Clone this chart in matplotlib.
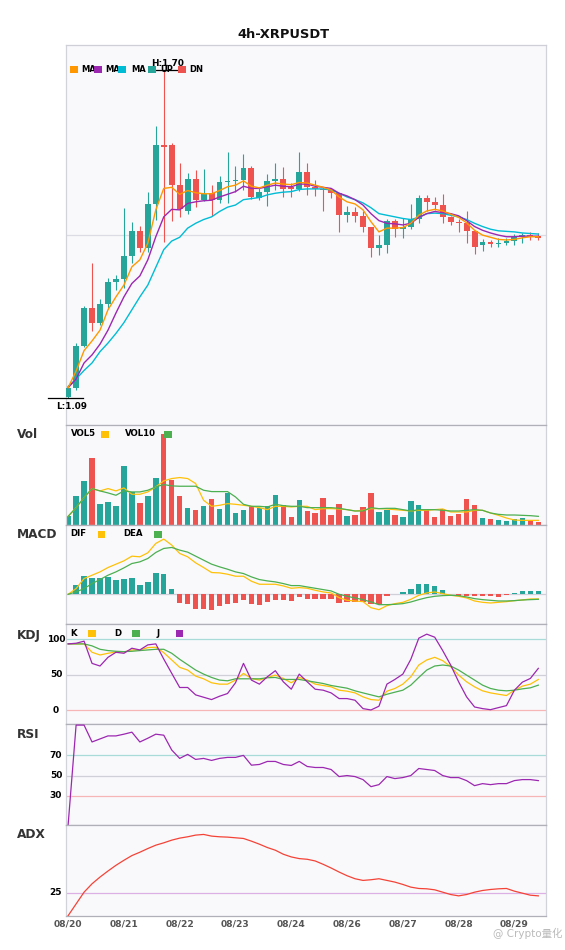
import matplotlib
matplotlib.use('Agg')
import matplotlib.pyplot as plt
import matplotlib.transforms as mtransforms
from matplotlib.patches import Rectangle
import numpy as np

# ---- data (60 x 4h bars) ----
opens = [1.092, 1.109, 1.187, 1.257, 1.229, 1.265, 1.306, 1.311, 1.354, 1.401,
         1.369, 1.451, 1.561, 1.561, 1.486, 1.438, 1.497, 1.458, 1.471, 1.458,
         1.492, 1.494, 1.495, 1.518, 1.462, 1.473, 1.494, 1.497, 1.482, 1.479,
         1.510, 1.482, 1.479, 1.477, 1.471, 1.430, 1.436, 1.428, 1.408, 1.369,
         1.375, 1.419, 1.404, 1.408, 1.423, 1.462, 1.455, 1.449, 1.427, 1.418,
         1.415, 1.401, 1.375, 1.380, 1.377, 1.379, 1.382, 1.389, 1.393, 1.392]
closes = [1.109, 1.187, 1.257, 1.229, 1.265, 1.306, 1.311, 1.354, 1.401, 1.369,
          1.451, 1.561, 1.558, 1.486, 1.441, 1.497, 1.458, 1.469, 1.458, 1.492,
          1.494, 1.495, 1.518, 1.464, 1.473, 1.494, 1.497, 1.479, 1.479, 1.510,
          1.482, 1.479, 1.477, 1.471, 1.430, 1.436, 1.428, 1.408, 1.369, 1.375,
          1.419, 1.404, 1.408, 1.423, 1.462, 1.455, 1.449, 1.427, 1.417, 1.416,
          1.401, 1.371, 1.380, 1.377, 1.379, 1.382, 1.389, 1.393, 1.390, 1.387]
highs = [1.113, 1.192, 1.261, 1.341, 1.274, 1.313, 1.319, 1.444, 1.417, 1.410,
         1.473, 1.596, 1.700, 1.564, 1.527, 1.509, 1.515, 1.516, 1.486, 1.503,
         1.548, 1.521, 1.544, 1.521, 1.482, 1.507, 1.527, 1.520, 1.490, 1.548,
         1.527, 1.495, 1.482, 1.481, 1.471, 1.447, 1.445, 1.438, 1.408, 1.393,
         1.423, 1.423, 1.425, 1.451, 1.468, 1.468, 1.464, 1.469, 1.428, 1.423,
         1.438, 1.401, 1.386, 1.384, 1.388, 1.388, 1.395, 1.397, 1.399, 1.397]
lows = [1.090, 1.105, 1.185, 1.215, 1.226, 1.256, 1.291, 1.295, 1.341, 1.362,
        1.362, 1.421, 1.380, 1.419, 1.426, 1.432, 1.445, 1.456, 1.428, 1.453,
        1.453, 1.473, 1.477, 1.460, 1.458, 1.447, 1.477, 1.464, 1.464, 1.475,
        1.468, 1.466, 1.438, 1.462, 1.399, 1.417, 1.417, 1.399, 1.352, 1.356,
        1.360, 1.389, 1.388, 1.404, 1.415, 1.438, 1.440, 1.415, 1.412, 1.399,
        1.378, 1.358, 1.363, 1.371, 1.371, 1.375, 1.375, 1.378, 1.384, 1.384]

ma5 = [1.109, 1.140, 1.178, 1.196, 1.216, 1.254, 1.278, 1.300, 1.334, 1.347,
       1.378, 1.440, 1.480, 1.482, 1.469, 1.476, 1.472, 1.470, 1.470, 1.476,
       1.483, 1.486, 1.494, 1.484, 1.481, 1.486, 1.490, 1.488, 1.487, 1.491,
       1.490, 1.486, 1.482, 1.477, 1.464, 1.455, 1.451, 1.440, 1.418, 1.399,
       1.406, 1.406, 1.407, 1.415, 1.430, 1.438, 1.441, 1.438, 1.432, 1.426,
       1.416, 1.402, 1.393, 1.389, 1.385, 1.384, 1.385, 1.388, 1.390, 1.390]
ma10 = [1.109, 1.125, 1.155, 1.170, 1.190, 1.216, 1.248, 1.278, 1.303, 1.317,
        1.347, 1.390, 1.427, 1.441, 1.440, 1.452, 1.455, 1.457, 1.458, 1.464,
        1.469, 1.474, 1.484, 1.480, 1.480, 1.483, 1.486, 1.484, 1.483, 1.488,
        1.488, 1.484, 1.482, 1.480, 1.471, 1.466, 1.459, 1.449, 1.433, 1.420,
        1.415, 1.414, 1.412, 1.415, 1.426, 1.433, 1.437, 1.435, 1.433, 1.429,
        1.420, 1.409, 1.402, 1.397, 1.393, 1.390, 1.390, 1.391, 1.391, 1.391]
ma20 = [1.111, 1.125, 1.141, 1.155, 1.176, 1.192, 1.210, 1.230, 1.254, 1.278,
        1.300, 1.333, 1.366, 1.382, 1.389, 1.406, 1.415, 1.422, 1.427, 1.437,
        1.445, 1.449, 1.459, 1.461, 1.463, 1.468, 1.471, 1.473, 1.474, 1.478,
        1.479, 1.479, 1.479, 1.477, 1.471, 1.464, 1.459, 1.453, 1.444, 1.433,
        1.430, 1.427, 1.424, 1.422, 1.426, 1.433, 1.434, 1.433, 1.430, 1.427,
        1.422, 1.415, 1.409, 1.404, 1.401, 1.400, 1.399, 1.397, 1.396, 1.395]

vol = [25, 85, 130, 199, 61, 67, 55, 175, 97, 64,
       87, 139, 271, 133, 85, 49, 43, 55, 76, 46,
       94, 34, 43, 55, 49, 55, 88, 58, 22, 73,
       40, 34, 79, 28, 61, 25, 28, 52, 94, 37,
       43, 28, 22, 70, 58, 43, 22, 46, 25, 31,
       76, 58, 19, 16, 13, 10, 16, 19, 13, 7]
vol5 = [25, 51, 81, 108, 101, 108, 101, 110, 91, 91,
        98, 113, 131, 138, 141, 138, 123, 73, 55, 58,
        63, 61, 58, 55, 51, 45, 55, 55, 53, 55,
        55, 45, 48, 48, 47, 45, 41, 43, 48, 48,
        47, 45, 43, 41, 43, 43, 45, 47, 38, 38,
        38, 43, 43, 35, 28, 20, 14, 13, 13, 13]
vol10 = [25, 51, 81, 108, 101, 95, 88, 101, 98, 98,
         103, 113, 120, 116, 115, 115, 115, 103, 99, 99,
         99, 83, 61, 55, 55, 53, 61, 57, 55, 55,
         51, 51, 51, 51, 49, 45, 41, 41, 51, 48,
         49, 49, 45, 41, 45, 45, 45, 43, 41, 41,
         43, 45, 43, 35, 31, 29, 29, 28, 27, 25]

# MACD in units of 1e-4
macd_hist = [0, 27, 54, 48, 48, 51, 42, 45, 48, 27,
             36, 63, 60, 15, -26, -29, -44, -44, -47, -35,
             -29, -26, -17, -29, -32, -23, -17, -17, -20, -8,
             -14, -14, -14, -14, -26, -23, -23, -23, -29, -29,
             -5, 2, 6, 15, 30, 30, 24, 12, 0, -5,
             -5, -5, -5, -5, -8, -3, 4, 9, 9, 9]
dif = [0, 17, 47, 57, 67, 80, 90, 100, 114, 112,
       124, 152, 165, 147, 122, 112, 94, 80, 65, 64,
       60, 54, 54, 39, 30, 30, 30, 25, 18, 20,
       18, 12, 7, 4, -10, -18, -20, -22, -40, -46,
       -34, -28, -24, -15, -3, 4, 7, 2, -3, -6,
       -11, -20, -24, -26, -24, -22, -19, -17, -14, -14]
dea = [0, 7, 17, 32, 44, 57, 67, 79, 92, 97,
       107, 125, 137, 140, 132, 126, 114, 102, 90, 82,
       75, 67, 62, 52, 44, 40, 37, 32, 26, 26,
       22, 18, 14, 10, 0, -6, -11, -16, -23, -31,
       -31, -30, -28, -23, -16, -10, -6, -4, -3, -4,
       -8, -13, -16, -18, -20, -20, -19, -17, -16, -15]

k_vals = [93.4, 93.4, 93.4, 81.6, 77.8, 80.2, 82.1, 82.1, 84.9, 84.9,
          88.2, 88.7, 81.1, 70.8, 60.4, 56.6, 48.1, 44.3, 38.7, 36.8,
          36.8, 42.5, 51.9, 44.8, 42.5, 46.2, 49.5, 44.8, 38.7, 46.2,
          42.5, 36.8, 34.9, 33.0, 28.3, 26.9, 24.5, 18.9, 15.1, 14.2,
          26.9, 30.7, 36.8, 47.2, 63.7, 70.8, 74.5, 69.8, 61.3, 49.5,
          40.1, 33.0, 27.4, 24.5, 22.6, 20.8, 28.3, 34.0, 36.8, 43.4]
d_vals = [93.4, 93.4, 93.4, 90.6, 85.8, 84.0, 83.0, 82.5, 83.0, 84.0,
          84.9, 85.8, 85.8, 80.2, 71.7, 64.2, 56.6, 50.9, 46.2, 42.5,
          41.5, 44.3, 44.3, 44.3, 44.3, 45.8, 46.2, 43.4, 43.4, 43.4,
          41.5, 39.6, 37.7, 34.9, 33.0, 31.1, 27.4, 24.5, 21.7, 18.9,
          22.6, 25.5, 28.3, 35.4, 46.2, 56.6, 62.3, 63.7, 62.3, 56.6,
          49.5, 42.5, 35.4, 30.7, 28.3, 27.4, 28.3, 30.2, 31.6, 35.4]
j_vals = [93.4, 94.3, 97.2, 66.0, 62.3, 74.5, 81.6, 80.2, 87.3, 84.9,
          92.0, 93.4, 72.0, 52.0, 32.1, 32.1, 21.7, 18.4, 15.1, 19.8,
          23.6, 38.7, 66.0, 42.5, 36.8, 47.2, 55.7, 40.1, 29.7, 50.9,
          40.1, 29.7, 28.3, 24.5, 16.5, 16.5, 14.2, 2.4, 0.5, 5.7,
          36.8, 43.4, 50.9, 71.7, 101.4, 107.1, 102.8, 84.0, 63.7, 40.1,
          18.9, 4.7, 2.4, 0.9, 3.8, 6.6, 28.3, 39.6, 44.8, 59.0]

rsi = [1.3, 100, 100, 83.3, 86.3, 89.3, 89.3, 91, 93, 83.3,
       87, 91, 90, 75.3, 67, 71, 66, 67, 65, 67,
       68, 68, 70, 60.3, 61, 64, 64, 61, 60, 64,
       59, 58, 58, 56, 49, 50, 49, 46, 39, 41,
       49, 47, 48, 50, 57, 56, 55, 50, 48, 48,
       45, 40, 42, 41, 42, 42, 45, 46, 46, 45]

adx = [11.2, 18.2, 25.2, 30.2, 34.2, 37.8, 41.2, 44.2, 47.0, 49.0,
       51.2, 53.2, 54.6, 56.2, 57.4, 58.2, 59.2, 59.6, 58.6, 58.2,
       58.0, 57.6, 57.2, 55.6, 53.8, 51.8, 50.2, 47.8, 46.2, 45.2,
       44.8, 43.8, 41.8, 39.6, 37.2, 35.0, 33.2, 32.2, 32.6, 33.2,
       32.2, 31.2, 29.8, 28.2, 27.4, 27.2, 26.6, 25.2, 23.8, 23.0,
       23.8, 25.2, 26.2, 26.8, 27.2, 27.4, 25.8, 24.6, 23.4, 23.0]

date_labels = ['08/20', '08/21', '08/22', '08/23', '08/24',
               '08/26', '08/27', '08/28', '08/29']
date_pos = [0, 7, 14, 21, 28, 35, 42, 49, 56]

# ---- style ----
UP = '#26a69a'
DN = '#ef5350'
C_MA5 = '#ff9800'
C_MA10 = '#9c27b0'
C_MA20 = '#00bcd4'
C_YEL = '#ffc107'
C_GRN = '#4caf50'
C_PUR = '#9c27b0'
BG = '#f9f9fc'

W, H = 565, 950


def fx(x):
    return x / W


def fy(y):
    return 1 - y / H


fig = plt.figure(figsize=(W / 100, H / 100), dpi=100)
fig.patch.set_facecolor('white')

L_PX, R_PX = 65.5, 545.5


def panel(top, bottom, main=False):
    ax = fig.add_axes([fx(L_PX), fy(bottom), (R_PX - L_PX) / W, (bottom - top) / H])
    ax.set_facecolor(BG)
    ax.set_xticks([])
    ax.set_yticks([])
    for side in ['left', 'right']:
        ax.spines[side].set_color('#d2d2da')
        ax.spines[side].set_linewidth(0.9)
    for side in ['top', 'bottom']:
        ax.spines[side].set_color('#cfcfd8' if main else '#b0b0b8')
        ax.spines[side].set_linewidth(0.9)
    ax.set_xlim(-0.33, 59.9)
    return ax


n = len(closes)
x = np.arange(n)
o = np.array(opens)
c = np.array(closes)
colors = [UP if c[i] >= o[i] else DN for i in range(n)]

# ---- main candle panel ----
ax = panel(45, 424.7, main=True)
ax.set_ylim(1.040, 1.747)
ax.axhline(np.mean(ax.get_ylim()), color='#dcdce4', lw=0.9, zorder=0)
ax.vlines(x, lows, highs, colors=colors, lw=0.8, zorder=2)
body_bot = np.minimum(o, c)
body_h = np.maximum(np.abs(c - o), 0.0018)
ax.bar(x, body_h, bottom=body_bot, width=0.74, color=colors, zorder=3)
ax.plot(x, ma20, color=C_MA20, lw=1.0, zorder=4)
ax.plot(x, ma10, color=C_MA10, lw=1.0, zorder=4)
ax.plot(x, ma5, color=C_MA5, lw=1.0, zorder=4)

hi_i = int(np.argmax(highs))
lo_i = int(np.argmin(lows))
ax.plot([hi_i - 1.4, hi_i + 1.7], [highs[hi_i]] * 2, color='black', lw=0.9, zorder=5)
ax.annotate('H:%.2f' % highs[hi_i], xy=(hi_i + 0.5, highs[hi_i]), xytext=(0, 4.7),
            textcoords='offset points', ha='center', va='center',
            fontsize=6.4, fontweight='bold', zorder=6)
ax.plot([lo_i - 2.57, lo_i + 1.82], [lows[lo_i]] * 2, color='black', lw=0.9,
        zorder=5, clip_on=False)
ax.annotate('L:%.2f' % lows[lo_i], xy=(lo_i + 0.4, lows[lo_i]), xytext=(0, -6.3),
            textcoords='offset points', ha='center', va='center',
            fontsize=6.4, fontweight='bold', zorder=6, annotation_clip=False)

# ---- volume ----
axv = panel(424.7, 524.7)
axv.set_ylim(0, 299)
axv.bar(x, vol, width=0.68, color=colors, zorder=2)
axv.plot(x, vol5, color=C_YEL, lw=0.9, zorder=3)
axv.plot(x, vol10, color=C_GRN, lw=0.9, zorder=3)

# ---- MACD ----
axm = panel(524.7, 624.4)
axm.set_ylim(-90, 208)
axm.axhline(0, color='#d0d0d8', lw=0.9, zorder=0)
hcol = [UP if v >= 0 else DN for v in macd_hist]
axm.bar(x, macd_hist, width=0.68, color=hcol, zorder=2)
axm.plot(x, dif, color=C_YEL, lw=0.9, zorder=3)
axm.plot(x, dea, color=C_GRN, lw=0.9, zorder=3)

# ---- KDJ ----
axk = panel(624.4, 724.4)
axk.set_ylim(-19.8, 120.8)
axk.axhline(100, color='#a9dcd8', lw=0.9, zorder=0)
axk.axhline(50, color='#d0d0d8', lw=0.9, zorder=0)
axk.axhline(0, color='#f6b6b6', lw=0.9, zorder=0)
axk.plot(x, k_vals, color=C_YEL, lw=0.9, zorder=3)
axk.plot(x, d_vals, color=C_GRN, lw=0.9, zorder=3)
axk.plot(x, j_vals, color=C_PUR, lw=0.9, zorder=3)

# ---- RSI ----
axr = panel(724.4, 824.7)
axr.set_ylim(1.3, 100.7)
axr.axhline(70, color='#a9dcd8', lw=0.9, zorder=0)
axr.axhline(50, color='#d0d0d8', lw=0.9, zorder=0)
axr.axhline(30, color='#f6b6b6', lw=0.9, zorder=0)
axr.plot(x, rsi, color=C_PUR, lw=0.9, zorder=3)

# ---- ADX ----
axa = panel(824.7, 916)
axa.set_ylim(11.0, 65.4)
axa.axhline(25, color='#dcb0e4', lw=0.9, zorder=0)
axa.plot(x, adx, color='#f44336', lw=0.9, zorder=3)
axa.set_xticks(date_pos)
axa.set_xticklabels(date_labels)
axa.tick_params(axis='x', length=0, pad=2.5, labelsize=6.6, labelcolor='#555555')
for lbl in axa.get_xticklabels():
    lbl.set_fontweight('bold')

# y labels on indicator panels
for a, vals in [(axk, [100, 50, 0]), (axr, [70, 50, 30]), (axa, [25])]:
    tr = mtransforms.blended_transform_factory(a.transAxes, a.transData)
    for v in vals:
        a.text(-0.0198, v, str(v), transform=tr, ha='center', va='center',
               fontsize=6.5, fontweight='bold', color='black')

# ---- texts and legends ----
fig.text(fx(283.5), fy(34), '4h-XRPUSDT', ha='center', va='center',
         fontsize=9.4, fontweight='bold', color='#111111')

for label, yy in [('Vol', 435), ('MACD', 534.7), ('KDJ', 635), ('RSI', 735), ('ADX', 835)]:
    fig.text(fx(17), fy(yy), label, ha='left', va='center', fontsize=8.7,
             fontweight='bold', color='#333333')


def legend_item(label, x_text, x_sq, y, color, fs, sq_w=7.7, sq_h=7.0):
    fig.text(fx(x_text), fy(y), label, ha='left', va='center', fontsize=fs,
             fontweight='bold', color='black', zorder=5)
    fig.add_artist(Rectangle((fx(x_sq), fy(y + sq_h / 2)), sq_w / W, sq_h / H,
                             transform=fig.transFigure, facecolor=color,
                             edgecolor='none', zorder=6))


main_legend = [('MA', 81, 70, C_MA5), ('MA', 105, 94, C_MA10), ('MA', 131, 118.3, C_MA20),
               ('UP', 160, 148.3, UP), ('DN', 189.3, 178.3, DN)]
for lab, xt, xs, col in main_legend:
    legend_item(lab, xt, xs, 69, col, 6.0)

legend_item('VOL5', 70.6, 101, 434, C_YEL, 6.2)
legend_item('VOL10', 125, 164, 434, C_GRN, 6.2)
legend_item('DIF', 70.6, 97.5, 534, C_YEL, 6.2)
legend_item('DEA', 123.7, 154, 534, C_GRN, 6.2)
legend_item('K', 70.6, 88, 633, C_YEL, 6.2)
legend_item('D', 114, 132, 633, C_GRN, 6.2)
legend_item('J', 157, 175.6, 633, C_PUR, 6.2)

fig.text(fx(562), fy(933), '@ Crypto量化', ha='right', va='center', fontsize=7.5,
         color='#bbbbbb', family=['DejaVu Sans', 'Noto Sans CJK SC'])

fig.savefig('out.png', dpi=100)
